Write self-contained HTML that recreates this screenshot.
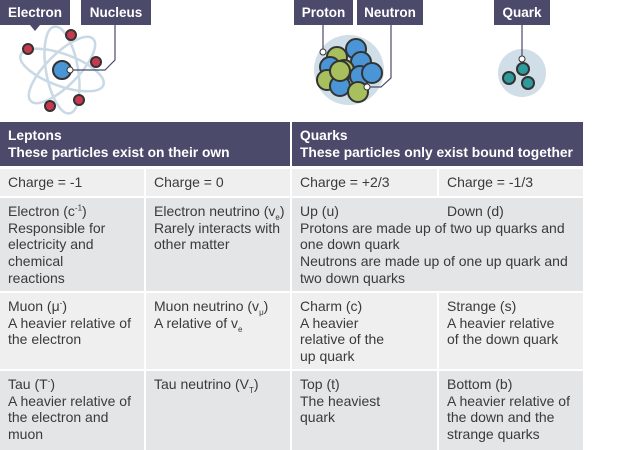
<!DOCTYPE html>
<html><head><meta charset="utf-8"><style>
body{margin:0;width:624px;height:450px;background:#fff;position:relative;overflow:hidden;font-family:"Liberation Sans",Arial,sans-serif;}
.c{position:absolute;font-size:14px;line-height:16.7px;color:#3a3a3a;padding:5px 0 0 8px;box-sizing:border-box;white-space:nowrap;}
.h{position:absolute;background:#4b4a6b;color:#fff;font-weight:bold;font-size:13.8px;line-height:17px;padding:5px 0 0 8px;box-sizing:border-box;top:122px;height:44px;white-space:nowrap;}
.lab{position:absolute;background:#4b4a6b;color:#fff;font-weight:bold;font-size:13.5px;line-height:25px;height:25px;text-align:center;top:0;}
.a{background:#efefef}.b{background:#e4e5e7}
sub,sup{font-size:8px;line-height:0}
</style></head><body>
<svg width="624" height="120" style="position:absolute;left:0;top:0">
<g fill="none" stroke="#c9d9e5" stroke-width="2.5">
<ellipse cx="62" cy="70" rx="44" ry="16" transform="rotate(20 62 70)"/>
<ellipse cx="62" cy="70" rx="44" ry="16" transform="rotate(-45 62 70)"/>
<ellipse cx="62" cy="70" rx="44" ry="16" transform="rotate(80 62 70)"/>
</g>
<polygon points="30,25 40,25 35,31" fill="#4b4a6b"/>
<g fill="#c8394e" stroke="#333" stroke-width="2">
<circle cx="71" cy="35" r="5"/><circle cx="28" cy="49" r="5"/><circle cx="96" cy="62" r="5"/><circle cx="50" cy="106" r="5"/><circle cx="79" cy="100" r="5"/>
</g>
<circle cx="62" cy="70" r="9" fill="#4a95d5" stroke="#333" stroke-width="2"/>
<polyline points="115,25 115,60 105,70 70,70" fill="none" stroke="#4b4a6b" stroke-width="1.2"/>
<circle cx="70" cy="70" r="3" fill="#fff" stroke="#333" stroke-width="1"/>
<circle cx="349" cy="70" r="35" fill="#d0dee7"/>
<g stroke="#333" stroke-width="2">
<circle cx="337" cy="57" r="10" fill="#a7bf5c"/>
<circle cx="356" cy="49" r="10" fill="#4a95d5"/>
<circle cx="361" cy="62" r="10" fill="#4a95d5"/>
<circle cx="330" cy="67" r="10" fill="#4a95d5"/>
<circle cx="344" cy="70" r="10" fill="#a7bf5c"/>
<circle cx="327" cy="80" r="10" fill="#a7bf5c"/>
<circle cx="360" cy="76" r="10" fill="#4a95d5"/>
<circle cx="372" cy="73" r="10" fill="#4a95d5"/>
<circle cx="340" cy="86" r="10" fill="#4a95d5"/>
<circle cx="358" cy="92" r="10" fill="#a7bf5c"/>
<circle cx="340" cy="71" r="10" fill="#a7bf5c"/>
</g>
<polyline points="323,25 323,52" fill="none" stroke="#4b4a6b" stroke-width="1.2"/>
<circle cx="323" cy="52" r="3" fill="#fff" stroke="#333"/>
<polyline points="391,25 391,78 381,87 367,87" fill="none" stroke="#4b4a6b" stroke-width="1.2"/>
<circle cx="367" cy="87" r="3" fill="#fff" stroke="#333"/>
<circle cx="522" cy="73" r="24" fill="#d0dee7"/>
<g fill="#2f9a9c" stroke="#333" stroke-width="2">
<circle cx="523" cy="69" r="6"/><circle cx="509" cy="78" r="6"/><circle cx="528" cy="83" r="6"/>
</g>
<line x1="522" y1="25" x2="522" y2="59" stroke="#4b4a6b" stroke-width="1.2"/>
<circle cx="522" cy="59" r="3" fill="#fff" stroke="#333"/>
</svg>
<div class="lab" style="left:0;width:70px">Electron</div>
<div class="lab" style="left:81px;width:70px">Nucleus</div>
<div class="lab" style="left:294px;width:59px">Proton</div>
<div class="lab" style="left:357px;width:66px">Neutron</div>
<div class="lab" style="left:494px;width:56px">Quark</div>

<div class="h" style="left:0;width:290px">Leptons<br>These particles exist on their own</div>
<div class="h" style="left:292px;width:291px">Quarks<br>These particles only exist bound together</div>

<div class="c a" style="left:0;top:169px;width:144px;height:27px">Charge = -1</div>
<div class="c a" style="left:146px;top:169px;width:144px;height:27px">Charge = 0</div>
<div class="c a" style="left:292px;top:169px;width:145px;height:27px">Charge = +2/3</div>
<div class="c a" style="left:439px;top:169px;width:144px;height:27px">Charge = -1/3</div>

<div class="c b" style="left:0;top:198px;width:144px;height:93px">Electron (c<sup>-1</sup>)<br>Responsible for<br>electricity and<br>chemical<br>reactions</div>
<div class="c b" style="left:146px;top:198px;width:144px;height:93px">Electron neutrino (v<sub>e</sub>)<br>Rarely interacts with<br>other matter</div>
<div class="c b" style="left:292px;top:198px;width:291px;height:93px">Up (u)<span style="position:absolute;left:155px">Down (d)</span><br>Protons are made up of two up quarks and<br>one down quark<br>Neutrons are made up of one up quark and<br>two down quarks</div>

<div class="c a" style="left:0;top:293px;width:144px;height:76px">Muon (μ<sup>-</sup>)<br>A heavier relative of<br>the electron</div>
<div class="c a" style="left:146px;top:293px;width:144px;height:76px">Muon neutrino (v<sub>μ</sub>)<br>A relative of v<sub>e</sub></div>
<div class="c a" style="left:292px;top:293px;width:145px;height:76px">Charm (c)<br>A heavier<br>relative of the<br>up quark</div>
<div class="c a" style="left:439px;top:293px;width:144px;height:76px">Strange (s)<br>A heavier relative<br>of the down quark</div>

<div class="c b" style="left:0;top:371px;width:144px;height:79px">Tau (T<sup>-</sup>)<br>A heavier relative of<br>the electron and<br>muon</div>
<div class="c b" style="left:146px;top:371px;width:144px;height:79px">Tau neutrino (V<sub>T</sub>)</div>
<div class="c b" style="left:292px;top:371px;width:145px;height:79px">Top (t)<br>The heaviest<br>quark</div>
<div class="c b" style="left:439px;top:371px;width:144px;height:79px">Bottom (b)<br>A heavier relative of<br>the down and the<br>strange quarks</div>
</body></html>
